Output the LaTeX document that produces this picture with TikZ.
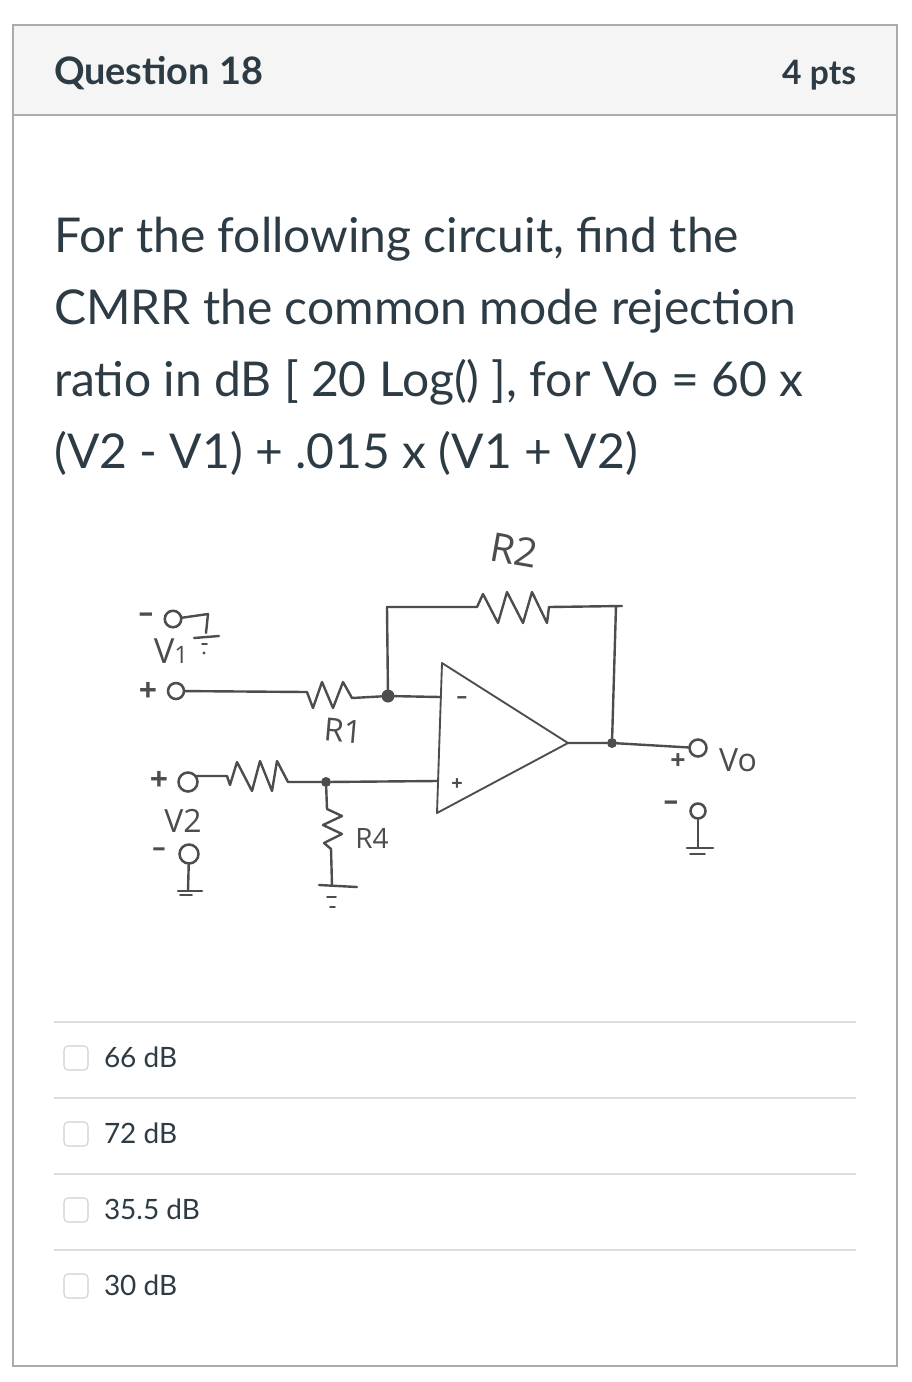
\documentclass[tikz,border=0pt]{standalone}
\usepackage{fontspec}
\setmainfont{Lato}
\newfontfamily\hand{Open Sans}[Scale=1]
\definecolor{ink}{HTML}{2D3B45}
\definecolor{wire}{HTML}{4D4D4D}
\definecolor{bordergray}{HTML}{ABABAB}
\definecolor{headbg}{HTML}{F5F5F5}
\definecolor{rulegray}{HTML}{DDDDDD}
\definecolor{boxgray}{HTML}{D0D0D0}
\newcommand{\fs}[1]{\fontsize{#1}{#1}\selectfont}
\tikzset{
  txt/.style={inner sep=0pt,outer sep=0pt,text=ink,anchor=base west},
  wirel/.style={draw=wire,line width=1.8pt,line join=round,line cap=round},
  thinl/.style={draw=wire,line width=1.4pt,line join=round,line cap=round},
  term/.style={circle,draw=wire,line width=1.9pt,inner sep=0pt,minimum size=#1,fill=none},
  junc/.style={circle,fill=wire,draw=none,inner sep=0pt,minimum size=#1},
  lab/.style={inner sep=0pt,text=wire,font=\hand\fs{#1}},
  sign/.style={inner sep=0pt,text=wire,font=\hand\bfseries\fs{#1}},
  rule/.style={draw=rulegray,line width=1.1pt},
  chk/.style={draw=boxgray,line width=0.8pt,fill=white,rounded corners=3pt}
}
\begin{document}
\begin{tikzpicture}[x=0.75pt,y=-0.75pt]
\useasboundingbox (0,0) rectangle (911,1382);
\fill[white] (0,0) rectangle (911,1382);
% card
\path[fill=headbg] (13,25) rectangle (897,115);
\draw[draw=bordergray,line width=1.5pt] (13,25) rectangle (897,1366);
\draw[draw=bordergray,line width=1.2pt] (13,115) -- (897,115);
\node[txt,font=\bfseries\fs{28.4}] (qtitle) at (54,84) {Question 18};
\node[txt,font=\bfseries\fs{25.2},anchor=base east] (pts) at (856,84) {4 pts};
\node[txt,font=\fs{36}] (l1) at (54,252) {For the following circuit, find the};
\node[txt,font=\fs{36}] (l2) at (54,324) {CMRR the common mode rejection};
\node[txt,font=\fs{36}] (l3) at (54,396) {ratio in dB [ 20 Log() ], for Vo = 60 x};
\node[txt,font=\fs{36}] (l4) at (54,468) {(V2 - V1) + .015 x (V1 + V2)};
% answers
\foreach \y/\t/\n in {1022/66 dB/a,1098/72 dB/b,1174/35.5 dB/c,1250/30 dB/d}{
  \draw[rule] (54,\y) -- (856,\y);
  \draw[chk] (64,\y+24) rectangle (88,\y+48);
  \node[txt,font=\fs{21}] (ans\n) at (104,\y+45) {\t};
}
% circuit nodes
\node[term=16.5pt*0.75] (vonem) at (173,619) {};
\node[term=16pt*0.75] (vonep) at (176,691) {};
\node[term=19pt*0.75] (vtwop) at (188,782) {};
\node[term=19pt*0.75] (vtwom) at (189,854) {};
\node[term=17pt*0.75] (voutp) at (698,748) {};
\node[term=15pt*0.75] (voutm) at (698,811) {};
\node[junc=13pt*0.75] (jneg) at (388,696) {};
\node[junc=10pt*0.75] (jpos) at (326,782) {};
\node[junc=10pt*0.75] (jout) at (612,743) {};
\coordinate (atop) at (442,663);
\coordinate (abot) at (437,813);
\coordinate (atip) at (568,743);
\coordinate (ainv) at (440,697);
\coordinate (anon) at (437,781);
\coordinate (ftl) at (387,607);
\coordinate (ftr) at (616,606);
\coordinate (gone) at (206,633);
\coordinate (gtwo) at (188,891);
\coordinate (gfour) at (332,885);
\coordinate (gout) at (698,848);
% op-amp
\draw[thinl] (atop) -- (atip) -- (abot) -- cycle;
% wires
\draw[wirel] (vonem) -- (208,614) -- (gone);
\draw[wirel] (vonep) -- (307,692) -- (313,708) -- (322,682) -- (333,708) -- (343,682) -- (352,698) -- (jneg) -- (ainv);
\draw[wirel] (jneg) -- (ftl) -- (477,607) -- (483,594) -- (498,623) -- (507,592) -- (523,623) -- (532,592) -- (547,623) -- (549,607) -- (622,606);
\draw[wirel] (ftr) -- (jout);
\draw[wirel] (atip) -- (jout) -- (voutp);
\draw[wirel] (vtwop) -- (197,776) -- (227,776) -- (230,785) -- (237,762) -- (252,791) -- (260,761) -- (272,791) -- (277,761) -- (288,782) -- (jpos) -- (anon);
\draw[wirel] (jpos) -- (327,809) -- (342,816) -- (323,825) -- (342,834) -- (324,843) -- (331,849) -- (gfour);
\draw[wirel] (vtwom) -- (gtwo);
\draw[wirel] (voutm) -- (gout);
% grounds
\draw[wirel] (194,638) -- (219,636);
\draw[thinl] (202,644) -- (207,644);
\fill[wire] (204,653) circle (1.2pt);
\draw[wirel] (178,891) -- (202,891);
\draw[thinl] (180,895) -- (192,895);
\draw[wirel] (319,885) -- (357,887);
\draw[thinl] (327,897) -- (336,897);
\draw[thinl] (330,907) -- (335,907);
\draw[wirel] (687,848) -- (713,848);
\draw[thinl] (690,854) -- (705,854);
% labels
\node[lab=30,rotate=-10] (lrtwo) at (514,550) {R2};
\node[lab=24,rotate=-5] (lrone) at (343,731) {R1};
\node[lab=21] (lrfour) at (372,838) {R4};
\node[lab=24] (lvo) at (738,760) {Vo};
\node[lab=26] (lvone) at (171,651) {V\fs{18}1};
\node[lab=24] (lvtwo) at (183,821) {V2};
\node[sign=24] (pa) at (148,692) {+};
\node[sign=22] (ma) at (146,618) {–};
\node[sign=24] (pb) at (159,781) {+};
\node[sign=20] (mb) at (159,852) {–};
\node[sign=20] (pc) at (678,762) {+};
\node[sign=22] (mc) at (671,806) {–};
\node[sign=15] (pd) at (457,785) {+};
\node[sign=16] (md) at (462,700) {–};
\end{tikzpicture}
\end{document}
